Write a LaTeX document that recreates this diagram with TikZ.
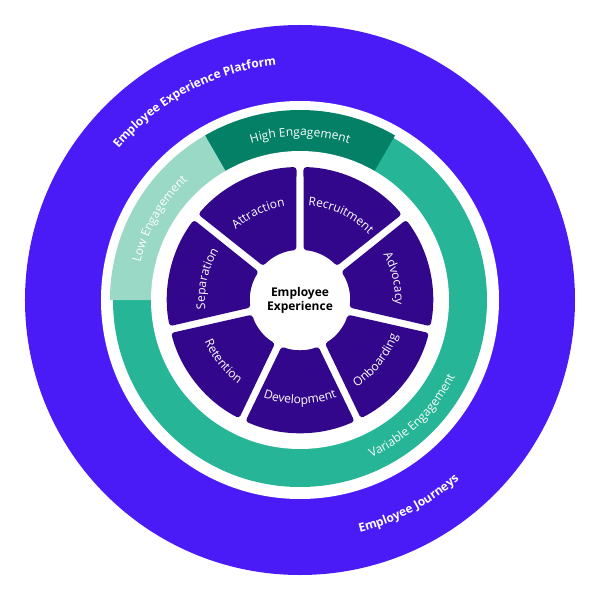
\documentclass[tikz,border=0pt]{standalone}
\usepackage{fontspec}
\setmainfont{Open Sans}
\usetikzlibrary{decorations.text}
\definecolor{platblue}{HTML}{4A1BF7}
\definecolor{segpurple}{HTML}{33078C}
\definecolor{tealmid}{HTML}{26B596}
\definecolor{tealdark}{HTML}{038066}
\definecolor{teallight}{HTML}{9AD9C6}
\tikzset{
  seg/.style = {fill=segpurple, rounded corners=3pt},
}
% label along an arc: #1 radius, #2 start, #3 end, #4 font, #5 text
\newcommand{\arclabel}[5]{
  \path[postaction={decorate}, decoration={text along path, text align=center,
    text={|\fontsize{12}{12}\selectfont#4\color{white}|#5}}]
    (#2:#1) arc[start angle=#2, end angle=#3, radius=#1];
}
\begin{document}
\begin{tikzpicture}[x=1pt, y=1pt]
  \useasboundingbox (-300,-300) rectangle (300,300);
  %rings
  \fill[platblue] (0,0) circle (275);
  \fill[white] (0,0) circle (199);
  \fill[tealmid] (0,0) circle (187);
  \fill[tealdark] (0,0) -- (60:190) arc[start angle=60, end angle=120, radius=190] -- cycle;
  \fill[teallight] (0,0) -- (120:190) arc[start angle=120, end angle=180, radius=190] -- cycle;
  \fill[white] (0,0) circle (149);
  %segments
  \foreach \i in {0,...,6}{
    \pgfmathsetmacro{\a}{90-51.4286*\i}
    \pgfmathsetmacro{\b}{\a-51.4286}
    \fill[seg] (\a-1.5:133) arc[start angle=\a-1.5, end angle=\b+1.5, radius=133]
      -- (\b+4.2:50) arc[start angle=\b+4.2, end angle=\a-4.2, radius=50] -- cycle;
  }
  \node (core) [fill=white, circle, minimum size=96pt, align=center, font=\fontsize{12}{14}\selectfont\bfseries] {Employee\\Experience};
  %segment labels
  \arclabel{95}{104.3}{24.3}{}{Recruitment}
  \arclabel{95}{52.9}{-27.1}{}{Advocacy}
  \arclabel{104}{-78.6}{1.4}{}{Onboarding}
  \arclabel{104}{-130}{-50}{}{Development}
  \arclabel{104}{-181.4}{-101.4}{}{Retention}
  \arclabel{95}{207.1}{127.1}{}{Separation}
  \arclabel{95}{155.7}{75.7}{}{Attraction}
  %ring labels
  \arclabel{164}{130}{50}{}{High Engagement}
  \arclabel{164}{190}{110}{}{Low Engagement}
  \arclabel{173}{-88}{-4}{}{Variable Engagement}
  \arclabel{236}{162}{74}{\bfseries}{Employee Experience Platform}
  \arclabel{240}{-102}{-22}{\bfseries}{Employee Journeys}
\end{tikzpicture}
\end{document}
